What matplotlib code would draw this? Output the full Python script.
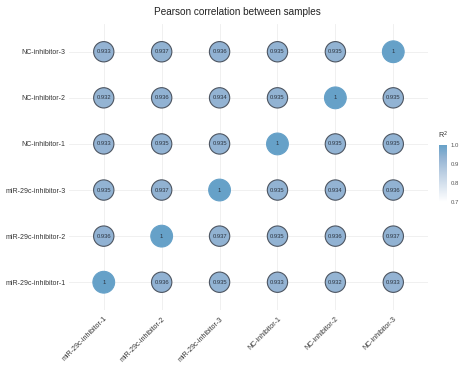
import matplotlib
matplotlib.use("Agg")
import matplotlib.pyplot as plt
import numpy as np
from matplotlib.colors import LinearSegmentedColormap, Normalize

plt.rcParams['font.family'] = ['Liberation Sans', 'DejaVu Sans']

samples = ["miR-29c-inhibitor-1", "miR-29c-inhibitor-2", "miR-29c-inhibitor-3",
           "NC-inhibitor-1", "NC-inhibitor-2", "NC-inhibitor-3"]

# rows listed bottom (miR-29c-inhibitor-1) to top (NC-inhibitor-3); columns in sample order
row_mir1 = [1, 0.936, 0.935, 0.933, 0.932, 0.933]
row_mir2 = [0.936, 1, 0.937, 0.935, 0.936, 0.937]
row_mir3 = [0.935, 0.937, 1, 0.935, 0.934, 0.936]
row_nc1 = [0.933, 0.935, 0.935, 1, 0.935, 0.935]
row_nc2 = [0.932, 0.936, 0.934, 0.935, 1, 0.935]
row_nc3 = [0.933, 0.937, 0.936, 0.935, 0.935, 1]
rows = [row_mir1, row_mir2, row_mir3, row_nc1, row_nc2, row_nc3]

cbar_ticks = [0.7, 0.8, 0.9, 1.0]

cmap = LinearSegmentedColormap.from_list(
    "r2", [(0.0, "#ffffff"), (0.5, "#bccfe3"), (0.78, "#93b3d3"), (1.0, "#66a1c8")])
norm = Normalize(vmin=0.7, vmax=1.0)

fig = plt.figure(figsize=(4.74, 3.65), dpi=100)
ax = fig.add_axes([0.1456, 0.151, 0.7574, 0.783])

xs, ys, vals = [], [], []
for j, row in enumerate(rows):
    for i, v in enumerate(row):
        xs.append(i + 1)
        ys.append(j + 1)
        vals.append(v)
xs = np.array(xs); ys = np.array(ys); vals = np.array(vals)

ax.set_axisbelow(True)
colors = cmap(norm(vals))
edges = [cmap(norm(v)) if v >= 1 else "#4d5561" for v in vals]
ax.scatter(xs, ys, s=245 * vals ** 2, c=colors, edgecolors=edges,
           linewidths=0.8, zorder=3)
for x, y, v in zip(xs, ys, vals):
    lab = "1" if v >= 1 else f"{v:.3f}"
    ax.text(x, y, lab, ha="center", va="center", fontsize=4.2,
            color="#2b3440", zorder=4)

ax.set_xlim(0.4, 6.6)
ax.set_ylim(0.4, 6.6)
ax.set_xticks(range(1, 7))
ax.set_yticks(range(1, 7))
ax.set_xticklabels(samples, rotation=45, ha="right", rotation_mode="anchor",
                   fontsize=5.0, color="#333333")
ax.set_yticklabels(samples, fontsize=5.0, color="#333333")
ax.tick_params(axis="y", length=0, pad=2.5)
ax.tick_params(axis="x", length=0, pad=4)
ax.grid(True, color="#eeeeee", linewidth=0.6)
for s in ax.spines.values():
    s.set_visible(False)

fig.text(0.5, 0.967, "Pearson correlation between samples", ha="center",
         va="center", fontsize=7.2, color="#222222")

cax = fig.add_axes([0.926, 0.447, 0.016, 0.156])
cb = fig.colorbar(plt.cm.ScalarMappable(norm=norm, cmap=cmap), cax=cax,
                  ticks=cbar_ticks)
cb.outline.set_visible(False)
cb.ax.tick_params(length=0, labelsize=4.3, labelcolor="#555555", pad=3)
cb.ax.set_yticklabels([f"{t:.1f}" for t in cbar_ticks])
fig.text(0.934, 0.615, "R$^2$", ha="center", va="bottom", fontsize=5.2,
         color="#333333")

fig.savefig("out.png", dpi=100)
